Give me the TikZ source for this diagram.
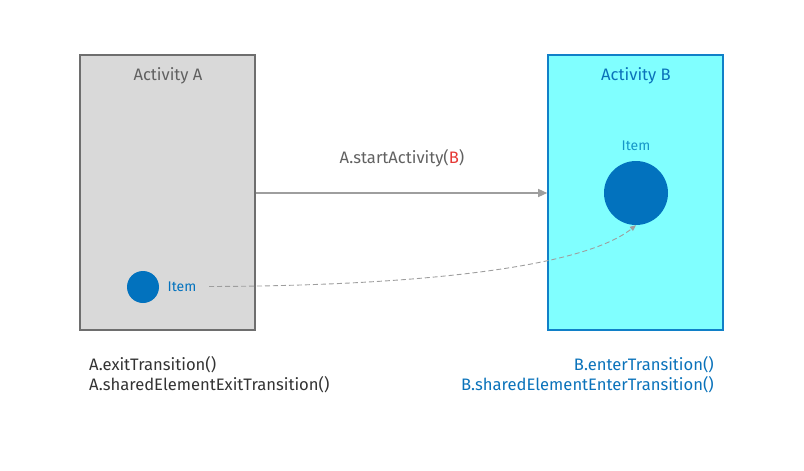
\documentclass[tikz,border=0pt]{standalone}
\usepackage{fontspec}
\setmainfont{Fira Sans}
\usetikzlibrary{arrows.meta}
\definecolor{boxA}{HTML}{D9D9D9}
\definecolor{boxAline}{HTML}{6E6E6E}
\definecolor{boxB}{HTML}{80FFFF}
\definecolor{boxBline}{HTML}{1080C8}
\definecolor{itemblue}{HTML}{0272BE}
\definecolor{txtgray}{HTML}{616161}
\definecolor{txtdark}{HTML}{333333}
\definecolor{arrgray}{HTML}{9E9E9E}
\definecolor{bred}{HTML}{E53935}
\definecolor{bluetxt}{HTML}{0A72BA}
\definecolor{itemtxtB}{HTML}{1596C8}
\begin{document}
\begin{tikzpicture}[x=1pt,y=-1pt,
  actbox/.style={minimum width=175pt,minimum height=275pt,inner sep=0pt,line width=1.6pt},
  lbl/.style={font=\fontsize{16.6}{20}\selectfont,inner sep=0pt},
  itemlbl/.style={font=\fontsize{14}{17}\selectfont,inner sep=0pt},
  dot/.style={circle,fill=itemblue,inner sep=0pt}]
\useasboundingbox (0,0) rectangle (804,471);
\node[actbox,draw=boxAline,fill=boxA] (A) at (167.5,192.5) {};
\node[actbox,draw=boxBline,fill=boxB] (B) at (635.5,192.5) {};
\node[lbl,text=txtgray] (tA) at (168,76) {Activity A};
\node[lbl,text=bluetxt] (tB) at (636,76) {Activity B};
\node[dot,minimum size=32pt] (iA) at (143,287) {};
\node[itemlbl,text=itemblue] (lA) at (182,287) {Item};
\node[dot,minimum size=64pt] (iB) at (636,193) {};
\node[itemlbl,text=itemtxtB] (lB) at (636,146) {Item};
\draw[arrgray,line width=1.3pt,-{Triangle[length=9pt,width=8pt]}] (A.east |- iB) -- (B.west |- iB);
\node[lbl,text=txtgray] (st) at (402,158) {A.startActivity(\textcolor{bred}{B})};
\coordinate (ds) at (209,286.5);
\draw[arrgray,line width=0.9pt,dash pattern=on 5pt off 3pt,-{Triangle[length=6pt,width=5pt]}] (ds) .. controls (400,286) and (580,270) .. (iB.south);
\node[lbl,text=txtdark,anchor=west,align=left] (ex) at (89,375) {A.exitTransition()\\A.sharedElementExitTransition()};
\node[lbl,text=bluetxt,anchor=east,align=right] (en) at (714,375) {B.enterTransition()\\B.sharedElementEnterTransition()};
\end{tikzpicture}
\end{document}
